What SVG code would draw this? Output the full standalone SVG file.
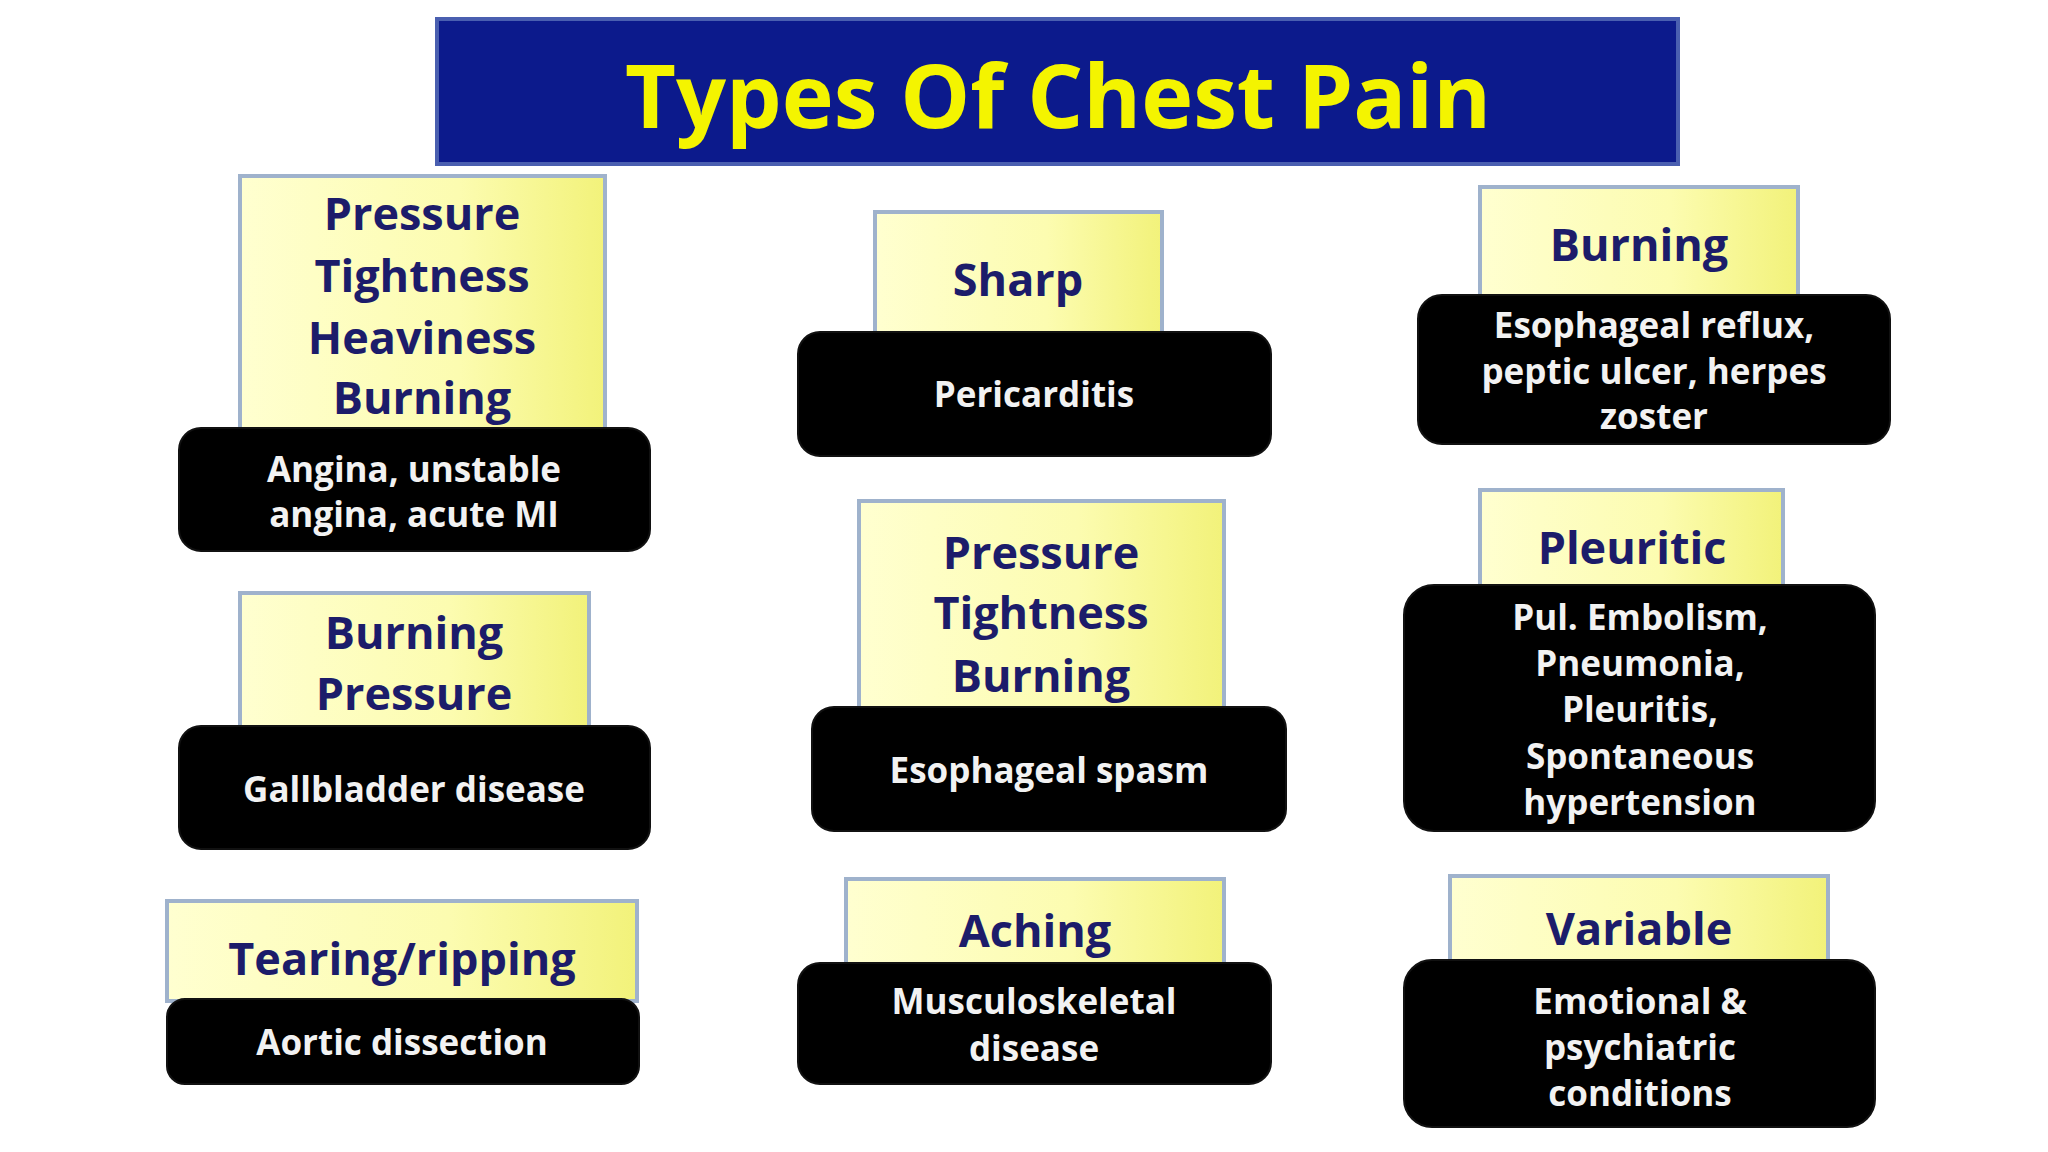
<svg xmlns="http://www.w3.org/2000/svg" width="2048" height="1152" viewBox="0 0 2048 1152">
<defs>
<linearGradient id="yg" x1="0" y1="0" x2="1" y2="0">
<stop offset="0" stop-color="#ffffd0"/><stop offset="0.6" stop-color="#fcfcb0"/><stop offset="1" stop-color="#f2f27a"/>
</linearGradient>
<style>
.y{fill:url(#yg);stroke:#9fb2cc;stroke-width:4}
.b{fill:#000;stroke:#111;stroke-width:2}
.h{font-family:"Open Sans","DejaVu Sans",sans-serif;font-weight:bold;font-size:45px;fill:#1c1c6a;text-anchor:middle;dominant-baseline:central}
.w{font-family:"Open Sans","DejaVu Sans",sans-serif;font-weight:bold;font-size:35px;fill:#f2f2f2;text-anchor:middle;dominant-baseline:central}
</style>
</defs>
<rect width="2048" height="1152" fill="#fff"/>
<g id="title">
<rect x="437" y="19" width="1241" height="145" fill="#0c1a8c" stroke="#4a5fb0" stroke-width="4"/>
<text x="1058" y="94" font-family="Open Sans,DejaVu Sans,sans-serif" font-weight="bold" font-size="88" fill="#f4f400" text-anchor="middle" dominant-baseline="central">Types Of Chest Pain</text>
</g>
<g id="n1">
<rect class="y" x="240" y="176" width="365" height="258"/>
<rect class="b" x="179" y="428" width="471" height="123" rx="22"/>
<text class="h" x="422" y="212">Pressure</text><text class="h" x="422" y="274">Tightness</text><text class="h" x="422" y="336">Heaviness</text><text class="h" x="422" y="396">Burning</text>
<text class="w" x="414" y="468">Angina, unstable</text><text class="w" x="414" y="513">angina, acute MI</text>
</g>
<g id="n2">
<rect class="y" x="240" y="593" width="349" height="136"/>
<rect class="b" x="179" y="726" width="471" height="123" rx="22"/>
<text class="h" x="414" y="631">Burning</text><text class="h" x="414" y="692">Pressure</text>
<text class="w" x="414" y="788">Gallbladder disease</text>
</g>
<g id="n3">
<rect class="y" x="167" y="901" width="470" height="100"/>
<rect class="b" x="167" y="999" width="472" height="85" rx="18"/>
<text class="h" x="402" y="957">Tearing/ripping</text>
<text class="w" x="402" y="1041">Aortic dissection</text>
</g>
<g id="n4">
<rect class="y" x="875" y="212" width="287" height="124"/>
<rect class="b" x="798" y="332" width="473" height="124" rx="22"/>
<text class="h" x="1018" y="278">Sharp</text>
<text class="w" x="1034" y="393">Pericarditis</text>
</g>
<g id="n5">
<rect class="y" x="859" y="501" width="365" height="210"/>
<rect class="b" x="812" y="707" width="474" height="124" rx="22"/>
<text class="h" x="1041" y="551">Pressure</text><text class="h" x="1041" y="611">Tightness</text><text class="h" x="1041" y="674">Burning</text>
<text class="w" x="1049" y="769">Esophageal spasm</text>
</g>
<g id="n6">
<rect class="y" x="846" y="879" width="378" height="88"/>
<rect class="b" x="798" y="963" width="473" height="121" rx="22"/>
<text class="h" x="1035" y="929">Aching</text>
<text class="w" x="1034" y="1000">Musculoskeletal</text><text class="w" x="1034" y="1047">disease</text>
</g>
<g id="n7">
<rect class="y" x="1480" y="187" width="318" height="112"/>
<rect class="b" x="1418" y="295" width="472" height="149" rx="24"/>
<text class="h" x="1639" y="243">Burning</text>
<text class="w" x="1654" y="324">Esophageal reflux,</text><text class="w" x="1654" y="370">peptic ulcer, herpes</text><text class="w" x="1654" y="415">zoster</text>
</g>
<g id="n8">
<rect class="y" x="1480" y="490" width="303" height="98"/>
<rect class="b" x="1404" y="585" width="471" height="246" rx="30"/>
<text class="h" x="1632" y="546">Pleuritic</text>
<text class="w" x="1640" y="616">Pul. Embolism,</text><text class="w" x="1640" y="662">Pneumonia,</text><text class="w" x="1640" y="708">Pleuritis,</text><text class="w" x="1640" y="755">Spontaneous</text><text class="w" x="1640" y="801">hypertension</text>
</g>
<g id="n9">
<rect class="y" x="1450" y="876" width="378" height="88"/>
<rect class="b" x="1404" y="960" width="471" height="167" rx="28"/>
<text class="h" x="1639" y="927">Variable</text>
<text class="w" x="1640" y="1000">Emotional &amp;</text><text class="w" x="1640" y="1046">psychiatric</text><text class="w" x="1640" y="1092">conditions</text>
</g>
<g id="connectors"/>
</svg>
